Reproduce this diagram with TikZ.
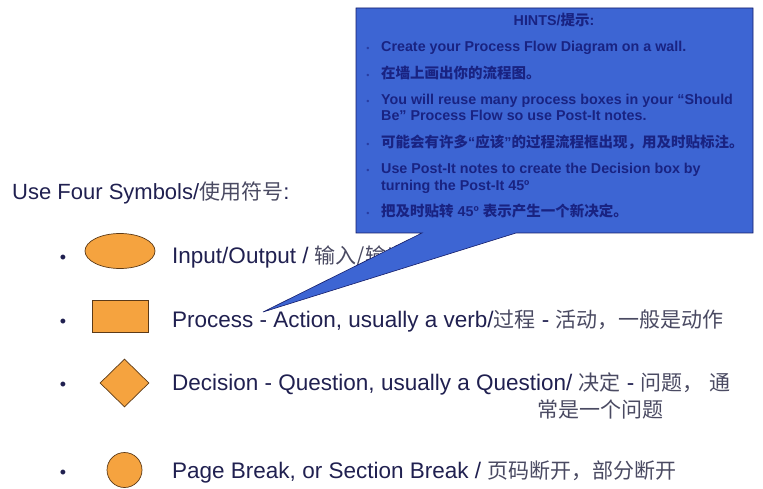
\documentclass[tikz,border=0pt]{standalone}
\usepackage{fontspec}
\setmainfont{Liberation Sans}
\newfontfamily\cjk{Noto Sans CJK SC}
\usepackage{tikz}
\usetikzlibrary{shapes.geometric}
\definecolor{inkblue}{HTML}{202050}
\definecolor{zhgray}{HTML}{4A4A62}
\definecolor{hintfill}{HTML}{3D65D3}
\definecolor{hintink}{HTML}{192382}
\definecolor{symfill}{HTML}{F5A33F}
\definecolor{symline}{HTML}{5C3A17}
\newcommand{\zhtext}[1]{{\cjk\fontsize{14.5}{16}\selectfont #1}}
\newcommand{\zhmain}[1]{{\cjk\fontsize{21}{24}\selectfont\color{zhgray}#1}}

\begin{document}
\begin{tikzpicture}[x=1pt, y=-1pt,
		sym/.style={draw=symline, fill=symfill, line width=0.7pt, inner sep=0pt},
		row/.style={anchor=base west, inner sep=0pt, text=inkblue, font=\fontsize{22.5}{24}\selectfont},
		dot/.style={anchor=base, inner sep=0pt, text=inkblue, font=\fontsize{18}{18}\selectfont},
		hint/.style={anchor=base west, inner sep=0pt, text=hintink, font=\fontsize{14.3}{16}\selectfont\bfseries},
		hintdot/.style={anchor=base, inner sep=0pt, text=hintink!60!hintfill, font=\fontsize{9}{9}\selectfont}]
			\useasboundingbox (0,0) rectangle (763,489);
			
			\node[row, font=\fontsize{22}{24}\selectfont] (title) at (12,200) {Use Four Symbols/\zhmain{使用符号}:};
			
			\node[dot] (dot1) at (63,263) {•};
			\node[dot] (dot2) at (63,327) {•};
			\node[dot] (dot3) at (63,390) {•};
			\node[dot] (dot4) at (63,478) {•};
			
			\node[sym, ellipse, minimum width=70pt, minimum height=35pt] (inout) at (120,251) {};
			\node[sym, rectangle, minimum width=56pt, minimum height=32pt] (proc) at (120,316) {};
			\node[sym, diamond, minimum width=49pt, minimum height=48pt] (decide) at (124.5,383) {};
			\node[sym, circle, minimum size=35pt] (pgbreak) at (124.5,470) {};
			
			\node[row] (inouttxt) at (172,263) {Input/Output / \zhmain{输入/输出}};
			\node[row] (proctxt) at (172,327) {Process - Action, usually a verb/\zhmain{过程} - \zhmain{活动，一般是动作}};
			\node[row] (dectxt) at (172,390) {Decision - Question, usually a Question/ \zhmain{决定} - \zhmain{问题，} \zhmain{通}};
			\node[row] (dectxt2) at (537,417) {\zhmain{常是一个问题}};
			\node[row] (pgtxt) at (172,478) {Page Break, or Section Break / \zhmain{页码断开，部分断开}};
			
			\coordinate (tip) at (263,312);
			\filldraw[fill=hintfill, draw=hintink!80!black, line width=0.6pt] (356,8) -- (753,8) -- (753,233) -- (516,233) -- (tip) -- (422,233) -- (356,233) -- cycle;
			
			\node[hint, anchor=base] (hinthead) at (554,26) {HINTS/\zhtext{提示}:};
			\foreach \y in {52,79,105,148,174,217}
				\node[hintdot] at (368,\y) {•};
			\node[hint] (h1) at (381,52) {Create your Process Flow Diagram on a wall.};
			\node[hint] (h2) at (381,79) {\zhtext{在墙上画出你的流程图。}};
			\node[hint] (h3) at (381,105) {You will reuse many process boxes in your “Should};
			\node[hint] (h3b) at (381,121) {Be” Process Flow so use Post-It notes.};
			\node[hint] (h4) at (381,148) {\zhtext{可能会有许多}“\zhtext{应该}”\zhtext{的过程流程框出现，用及时贴标注。}};
			\node[hint] (h5) at (381,174) {Use Post-It notes to create the Decision box by};
			\node[hint] (h5b) at (381,191) {turning the Post-It 45º};
			\node[hint] (h6) at (381,217) {\zhtext{把及时贴转} 45º \zhtext{表示产生一个新决定。}};
\end{tikzpicture}
\end{document}
